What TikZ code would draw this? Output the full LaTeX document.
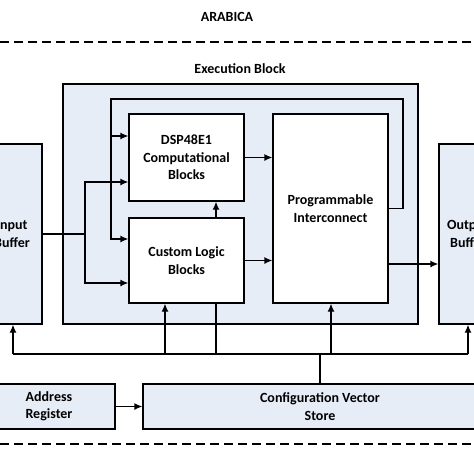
\documentclass[tikz,border=0pt]{standalone}
\usepackage{fontspec}
\setmainfont{Carlito}
\usepackage{xcolor}
\usetikzlibrary{arrows.meta,positioning}
\definecolor{blockfill}{RGB}{231,237,246}
\tikzset{blockbox/.style={draw,line width=1.3pt,fill=blockfill,inner sep=0pt,align=center},
  whitebox/.style={blockbox,fill=white},
  bigtext/.style={font=\bfseries\fontsize{14}{17.5}\selectfont}}

\begin{document}
\begin{tikzpicture}[>={Latex[length=8pt,width=7pt]},x=1pt,y=-1pt,line width=1.3pt,every node/.append style={bigtext}]
    \useasboundingbox (0,0) rectangle (474,474);
    \node (title) at (227,17) {ARABICA};
    \draw[dash pattern=on 9pt off 5pt] (0,42) -- (474,42);
    \draw[dash pattern=on 9pt off 5pt] (0,444) -- (474,444);

    % execution block and its parts
    \node[blockbox,minimum width=355pt,minimum height=240pt] (exec) at (240.5,204) {};
    \node (execlabel) at (240,69) {Execution Block};
    \node[whitebox,minimum width=115pt,minimum height=87pt] (dsp) at (186.5,157.5) {DSP48E1\\Computational\\Blocks};
    \node[whitebox,minimum width=115pt,minimum height=85pt] (logic) at (186.5,260.5) {Custom Logic\\Blocks};
    \node[whitebox,minimum width=115pt,minimum height=189pt] (inter) at (330.5,208.5) {Programmable\\Interconnect};

    % buffers and configuration
    \node[blockbox,minimum width=60pt,minimum height=180pt] (inbuf) at (12,234) {Input\\Buffer};
    \node[blockbox,minimum width=58pt,minimum height=180pt] (outbuf) at (468,234) {Output\\Buffer};
    \node[blockbox,minimum width=132pt,minimum height=45pt] (addr) at (49,406.5) {Address\\Register};
    \node[blockbox,minimum width=354pt,minimum height=45pt] (cvs) at (320,406.5) {Configuration Vector\\Store};

    % feedback loop
    \coordinate (fbtr) at (403,99);
    \coordinate (fbtl) at (111,99);
    \coordinate (dspfb) at ([yshift=21.5pt]dsp.west);
    \draw[->] (inter.east) -| (fbtr) -- (fbtl) |- ([yshift=21.5pt]logic.west);
    \draw[->] (fbtl |- dspfb) -- (dspfb);

    % input paths
    \coordinate (injoin) at (85,234);
    \draw (inbuf.east) -- (injoin);
    \draw[->] (injoin) |- ([yshift=-24.5pt]dsp.west);
    \draw[->] (injoin) |- ([yshift=-22.5pt]logic.west);

    \draw[->] (dsp.east) -- (dsp.east -| inter.west);
    \draw[->] (logic.east) -- (logic.east -| inter.west);
    \draw[->] ([xshift=29.5pt]logic.north) -- ([xshift=29.5pt]logic.north |- dsp.south);
    \draw[->] ([yshift=-55.5pt]inter.east) -- ([yshift=-55.5pt]inter.east -| outbuf.west);

    % configuration bus
    \coordinate (busL) at (13,354);
    \coordinate (busR) at (468,354);
    \draw (busL) -- (busR);
    \foreach \px/\tgt in {13/inbuf,165/logic,331/inter,468/outbuf} {
      \coordinate (b\px) at (\px,354);
      \draw[->] (b\px) -- (b\px |- \tgt.south);
    }
    \draw ([xshift=29.5pt]logic.south) -- ([xshift=29.5pt]logic.south |- busL);
    \draw (cvs.north) -- (cvs.north |- busL);
    \draw[->] (addr.east) -- (addr.east -| cvs.west);
  \end{tikzpicture}
\end{document}
